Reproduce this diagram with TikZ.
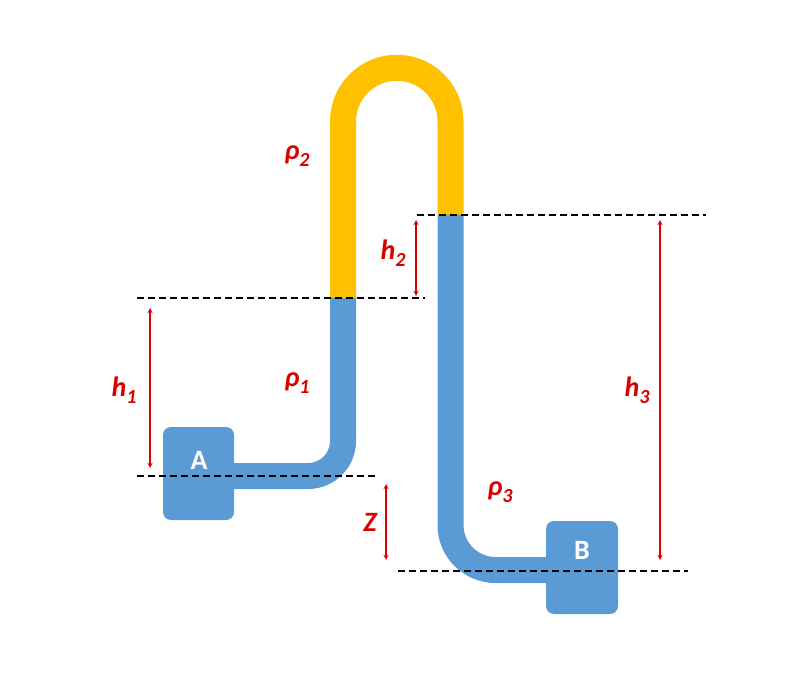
\documentclass[tikz,border=0pt]{standalone}
\usepackage{fontspec}
\setmainfont{Carlito}
\begin{document}
\begin{tikzpicture}[x=1pt,y=-1pt,
  tube/.style={line width=26pt,line cap=butt},
  dline/.style={black,line width=2.6pt,dash pattern=on 7pt off 4pt},
  meas/.style={red!85!black,line width=1.3pt,<->,>=stealth},
  lab/.style={text=red!85!black,font=\fontsize{28}{30}\selectfont\bfseries\itshape},
  box/.style={fill=blue1,rounded corners=8pt}]
\definecolor{blue1}{HTML}{5B9BD5}
\definecolor{yel}{HTML}{FFC000}
\useasboundingbox (0,0) rectangle (792,692);
% tubes
\draw[tube,blue1] (230,476) -- (308,476) arc[start angle=90,end angle=0,radius=35] -- (343,298);
\draw[tube,yel] (343,298) -- (343,121.5) arc[start angle=180,end angle=360,radius=53.75] -- (450.5,215);
\draw[tube,blue1] (450.5,215) -- (450.5,525) arc[start angle=180,end angle=90,radius=45] -- (560,570);
\node[box,minimum width=71pt,minimum height=93pt] (A) at (198.5,473.5) {};
\node[box,minimum width=72pt,minimum height=93pt] (B) at (582,567.5) {};
\node[white,font=\fontsize{28}{30}\selectfont\bfseries] (Al) at (199,460) {A};
\node[white,font=\fontsize{28}{30}\selectfont\bfseries] (Bl) at (582,550) {B};
% dashed levels
\coordinate (d1a) at (137,298); \coordinate (d1b) at (425,298);
\coordinate (d2a) at (417,215); \coordinate (d2b) at (706,215);
\coordinate (d3a) at (137,476); \coordinate (d3b) at (375,476);
\coordinate (d4a) at (398,571); \coordinate (d4b) at (688,571);
\draw[dline] (d1a) -- (d1b);
\draw[dline] (d2a) -- (d2b);
\draw[dline] (d3a) -- (d3b);
\draw[dline] (d4a) -- (d4b);
% measures
\coordinate (m1a) at (150,308); \coordinate (m1b) at (150,468);
\coordinate (m2a) at (416,220); \coordinate (m2b) at (416,296);
\coordinate (m3a) at (660,220); \coordinate (m3b) at (660,560);
\coordinate (m4a) at (386,484); \coordinate (m4b) at (386,560);
\draw[meas] (m1a) -- (m1b);
\draw[meas] (m2a) -- (m2b);
\draw[meas] (m3a) -- (m3b);
\draw[meas] (m4a) -- (m4b);
\node[lab] (h1) at (124,390) {h\raisebox{-0.25em}{\fontsize{20}{22}\selectfont 1}};
\node[lab] (h2) at (393,253) {h\raisebox{-0.25em}{\fontsize{20}{22}\selectfont 2}};
\node[lab] (h3) at (637,390) {h\raisebox{-0.25em}{\fontsize{20}{22}\selectfont 3}};
\node[lab] (z) at (370,522) {Z};
\node[lab] (r2) at (297,156) {ρ\raisebox{-0.25em}{\fontsize{20}{22}\selectfont 2}};
\node[lab] (r1) at (297,383) {ρ\raisebox{-0.25em}{\fontsize{20}{22}\selectfont 1}};
\node[lab] (r3) at (500,492) {ρ\raisebox{-0.25em}{\fontsize{20}{22}\selectfont 3}};
\end{tikzpicture}
\end{document}
